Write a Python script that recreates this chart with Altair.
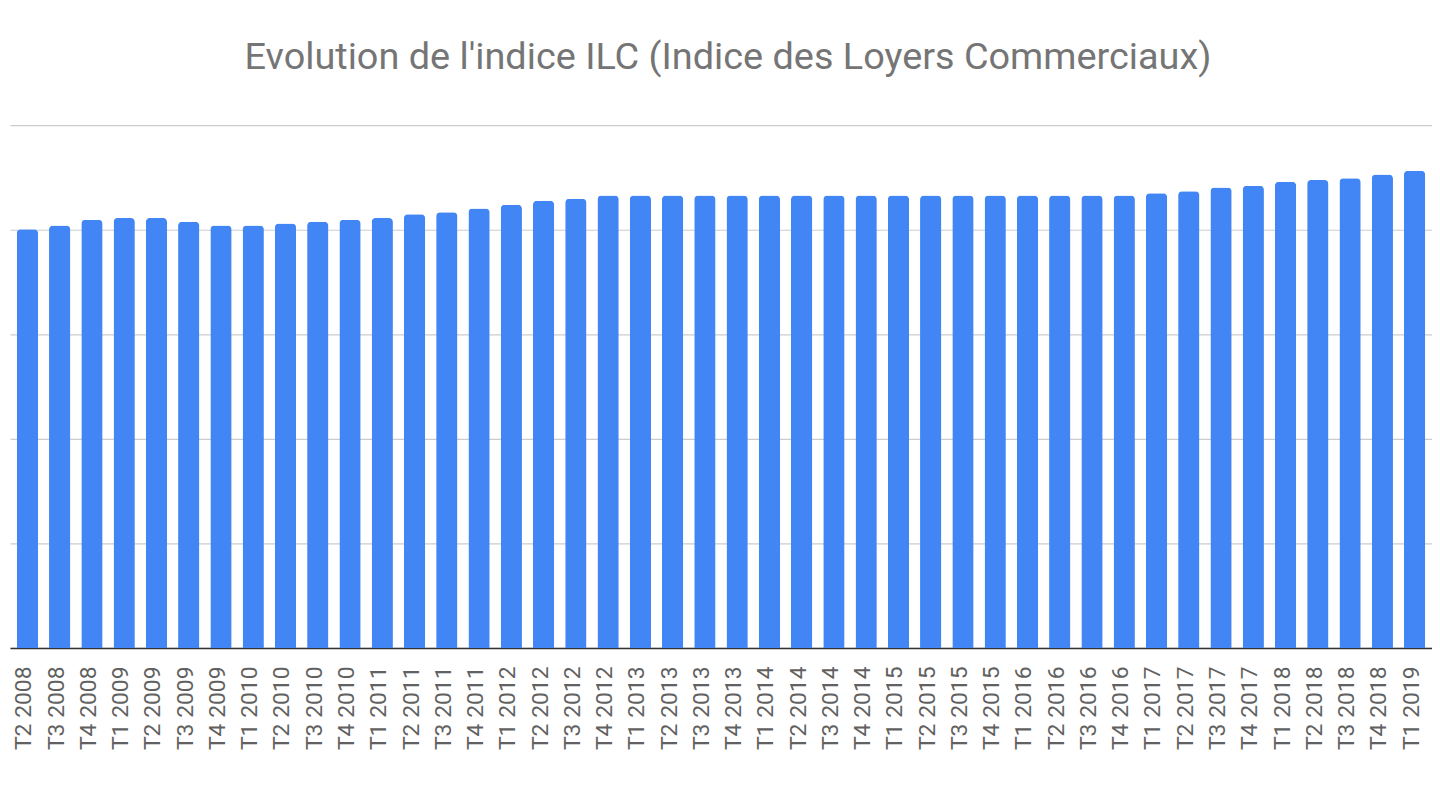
import altair as alt
import pandas as pd

quarters = [
    "T2 2008", "T3 2008", "T4 2008",
    "T1 2009", "T2 2009", "T3 2009", "T4 2009",
    "T1 2010", "T2 2010", "T3 2010", "T4 2010",
    "T1 2011", "T2 2011", "T3 2011", "T4 2011",
    "T1 2012", "T2 2012", "T3 2012", "T4 2012",
    "T1 2013", "T2 2013", "T3 2013", "T4 2013",
    "T1 2014", "T2 2014", "T3 2014", "T4 2014",
    "T1 2015", "T2 2015", "T3 2015", "T4 2015",
    "T1 2016", "T2 2016", "T3 2016", "T4 2016",
    "T1 2017", "T2 2017", "T3 2017", "T4 2017",
    "T1 2018", "T2 2018", "T3 2018", "T4 2018",
    "T1 2019",
]
ilc = [
    100.1, 101.0, 102.4,
    102.8, 102.8, 101.9, 101.0,
    101.0, 101.5, 101.9, 102.4,
    102.8, 103.7, 104.2, 105.1,
    106.0, 106.9, 107.4, 108.2,
    108.2, 108.2, 108.2, 108.2,
    108.2, 108.2, 108.2, 108.2,
    108.2, 108.2, 108.2, 108.2,
    108.2, 108.2, 108.2, 108.2,
    108.7, 109.2, 110.1, 110.5,
    111.5, 111.9, 112.3, 113.2,
    114.1,
]
y_ticks = [0, 25, 50, 75, 100, 125]

df = pd.DataFrame({"trimestre": quarters, "ilc": ilc})

chart = (
    alt.Chart(df)
    .mark_bar(color="#4285F4", cornerRadiusTopLeft=4, cornerRadiusTopRight=4)
    .encode(
        x=alt.X(
            "trimestre:N",
            sort=quarters,
            title=None,
            scale=alt.Scale(paddingInner=0.34, paddingOuter=0.21),
            axis=alt.Axis(
                labelAngle=-90,
                labelAlign="right",
                labelBaseline="middle",
                labelFont="Roboto",
                labelFontSize=23,
                labelColor="#616161",
                labelPadding=18,
                labelOffset=-3,
                ticks=False,
                domainColor="#333333",
                domainWidth=1.5,
                grid=False,
            ),
        ),
        y=alt.Y(
            "ilc:Q",
            title=None,
            scale=alt.Scale(domain=[0, 125], nice=False),
            axis=alt.Axis(
                values=y_ticks,
                labelFont="Roboto",
                labelFontSize=23,
                labelColor="#616161",
                labelPadding=8,
                ticks=False,
                domain=False,
                gridColor="#cccccc",
                gridWidth=1.2,
            ),
        ),
    )
    .properties(
        width=1428,
        height=525,
        title=alt.TitleParams(
            "Evolution de l'indice ILC (Indice des Loyers Commerciaux)",
            font="Roboto",
            fontSize=38,
            fontWeight="normal",
            color="#757575",
            anchor="middle",
            baseline="alphabetic",
            offset=7,
            dx=7,
        ),
        autosize=alt.AutoSizeParams(type="none"),
        padding={"left": 2, "top": 116, "right": 0, "bottom": 150},
    )
    .configure_view(stroke=None)
)

chart.save("out.html", embed_options={"renderer": "svg", "actions": False})
